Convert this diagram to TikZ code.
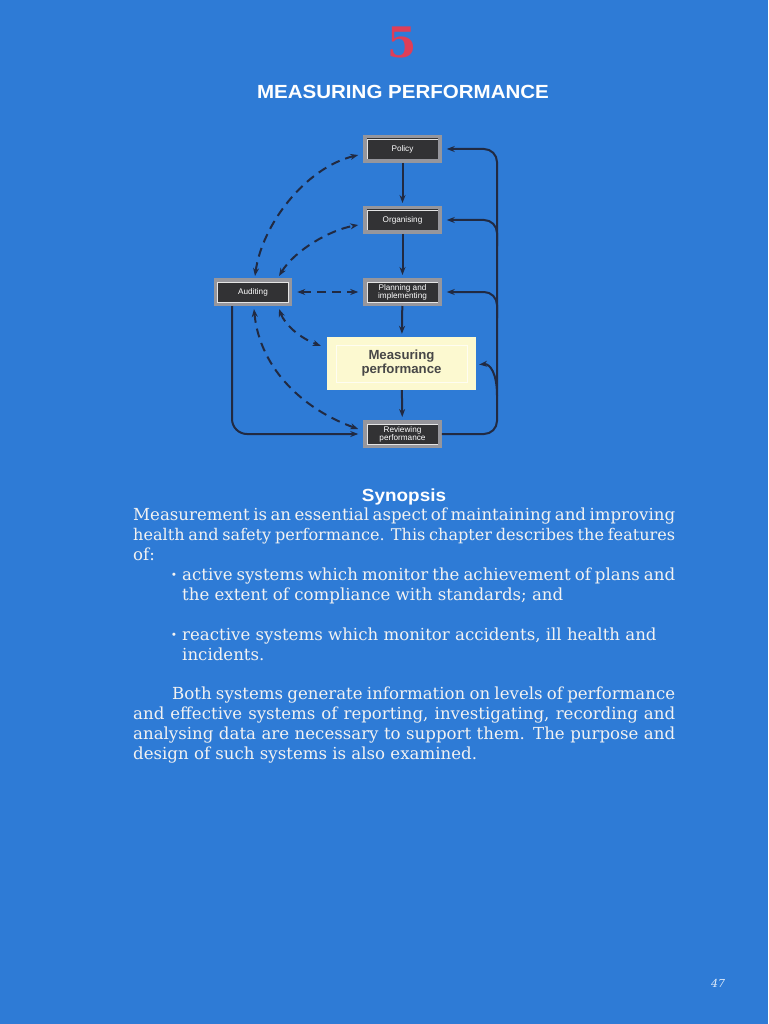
\documentclass[tikz,border=0pt]{standalone}
\usepackage{fontspec}
\setmainfont{DejaVu Serif}
\newfontfamily\headfont{Liberation Sans}
\newfontfamily\headwide[FakeStretch=1.08]{Liberation Sans}
\newfontfamily\numfont{DejaVu Serif}
\usetikzlibrary{arrows.meta,calc}
\definecolor{bg}{RGB}{46,123,214}
\definecolor{ln}{RGB}{33,42,66}
\definecolor{boxdark}{RGB}{50,50,52}
\definecolor{frame}{RGB}{150,150,156}
\definecolor{numred}{RGB}{222,62,88}
\definecolor{pale}{RGB}{252,249,208}
\definecolor{txt}{RGB}{242,242,242}
\newcommand\bsp{\spaceskip=0.3em plus 1em minus 0.2em\relax}
\newcommand\jline[2]{\makebox[#1][s]{\bsp #2}}
\begin{document}
\begin{tikzpicture}[x=1pt,y=-1pt,
  darkbox/.style={fill=boxdark, draw=frame, line width=3.5pt,
    minimum width=75pt, minimum height=24.5pt, inner sep=0pt, text=white,
    font=\headfont\fontsize{8.2}{8.2}\selectfont, align=center,
    path picture={\draw[white!80!gray, line width=0.6pt]
      ([shift={(2.2pt,2.2pt)}]path picture bounding box.south west) rectangle
      ([shift={(-2.2pt,-2.2pt)}]path picture bounding box.north east);}},
  palebox/.style={fill=pale, minimum width=149pt, minimum height=53pt, inner sep=0pt,
    text=black!72, font=\headfont\bfseries\fontsize{13.2}{14}\selectfont, align=center,
    path picture={\draw[white!70!pale, line width=1pt]
      ([shift={(9pt,8pt)}]path picture bounding box.south west) rectangle
      ([shift={(-9pt,-8pt)}]path picture bounding box.north east);}},
  conn/.style={draw=ln, line width=2pt},
  tip/.style={-{Stealth[length=8pt,width=6pt]}},
  dtip/.style={{Stealth[length=8pt,width=6pt]}-{Stealth[length=8pt,width=6pt]}},
  dsh/.style={dash pattern=on 9pt off 6pt},
  bodyline/.style={anchor=base west, inner sep=0pt, text=txt,
    font=\fontsize{16.6}{20}\selectfont},
]
\useasboundingbox (0,0) rectangle (768,1024);
\fill[bg] (0,0) rectangle (768,1024);

\node[text=numred, font=\numfont\bfseries\fontsize{42}{44}\selectfont, anchor=base] (num) at (402,58) {5};
\node[text=white, font=\headwide\bfseries\fontsize{19}{20}\selectfont, anchor=base] (title) at (403,99) {MEASURING PERFORMANCE};

\node[darkbox] (policy) at (402.5,149) {Policy};
\node[darkbox] (organising) at (402.5,220) {Organising};
\node[darkbox] (planning) at (402.5,292) {Planning and\\implementing};
\node[darkbox] (auditing) at (253,292) {Auditing};
\node[palebox] (measuring) at (401.5,363.5) {Measuring\\performance};
\node[darkbox] (reviewing) at (402.5,434) {Reviewing\\performance};
\coordinate (rl) at (497,300);
\coordinate (al) at (232,300);

% vertical flow
\draw[conn,tip,shorten >=3pt] (policy) -- (organising);
\draw[conn,tip,shorten >=3pt] (organising) -- (planning);
\draw[conn,tip,shorten >=3pt] (planning) -- (measuring);
\draw[conn,tip,shorten >=3pt] (measuring) -- (reviewing);

% feedback on the right
\draw[conn,tip,rounded corners=13pt,shorten >=5pt] (reviewing.east) -- (reviewing.east -| rl) -- (policy.east -| rl) -- (policy.east);
\draw[conn,tip,rounded corners=13pt,shorten >=5pt] ($(organising.east -| rl)+(0,26)$) -- (organising.east -| rl) -- (organising.east);
\draw[conn,tip,rounded corners=13pt,shorten >=5pt] ($(planning.east -| rl)+(0,26)$) -- (planning.east -| rl) -- (planning.east);
\draw[conn,tip] ($(measuring.east -| rl)+(0,32)$) .. controls ($(measuring.east -| rl)+(0,10)$) and ($(measuring.east)+(14,0)$) .. ($(measuring.east)+(3,1)$);

% auditing to reviewing
\draw[conn,tip,rounded corners=15pt,shorten >=5pt] (auditing.south -| al) -- (reviewing.west -| al) -- (reviewing.west);

% dashed links
\draw[conn,dsh,dtip,shorten <=5pt,shorten >=5pt] (auditing.east) -- (planning.west);
\draw[conn,dsh,dtip] ($(auditing.north)+(2,-2)$) .. controls (262,225) and (305,168) .. ($(policy.west)+(-5,6)$);
\draw[conn,dsh,dtip] ($(auditing.north)+(26,-2)$) .. controls (295,250) and (330,230) .. ($(organising.west)+(-5,5)$);
\draw[conn,dsh,dtip] ($(auditing.south)+(26,3)$) .. controls (285,325) and (300,338) .. ($(measuring.north west)+(-6,9)$);
\draw[conn,dsh,dtip] ($(auditing.south)+(1,3)$) .. controls (260,370) and (305,410) .. ($(reviewing.west)+(-5,-5)$);

% synopsis
\node[text=white, font=\headwide\bfseries\fontsize{17.5}{18}\selectfont, anchor=base] (syn) at (404,501) {Synopsis};
\node[bodyline] (l1) at (133,520) {\jline{542pt}{Measurement is an essential aspect of maintaining and improving}};
\node[bodyline, font=\fontsize{16.1}{20}\selectfont] (l2) at (133,540) {\jline{542pt}{health and safety performance. This chapter describes the features}};
\node[bodyline] (l3) at (133,560) {of:};
\node[bodyline] (b1) at (171,580) {\textbf{·}};
\node[bodyline] (l4) at (182,580) {\jline{493pt}{active systems which monitor the achievement of plans and}};
\node[bodyline] (l5) at (182,600) {the extent of compliance with standards; and};
\node[bodyline] (b2) at (171,640) {\textbf{·}};
\node[bodyline] (l6) at (182,640) {reactive systems which monitor accidents, ill health and};
\node[bodyline] (l7) at (182,660) {incidents.};
\node[bodyline] (l8) at (172,699) {\jline{503pt}{Both systems generate information on levels of performance}};
\node[bodyline] (l9) at (133,719) {\jline{542pt}{and effective systems of reporting, investigating, recording and}};
\node[bodyline] (l10) at (133,739) {\jline{542pt}{analysing data are necessary to support them. The purpose and}};
\node[bodyline] (l11) at (133,759) {design of such systems is also examined.};

\node[text=white!85!bg, font=\itshape\fontsize{11}{12}\selectfont, anchor=base] (page) at (718,987) {47};
\end{tikzpicture}
\end{document}
